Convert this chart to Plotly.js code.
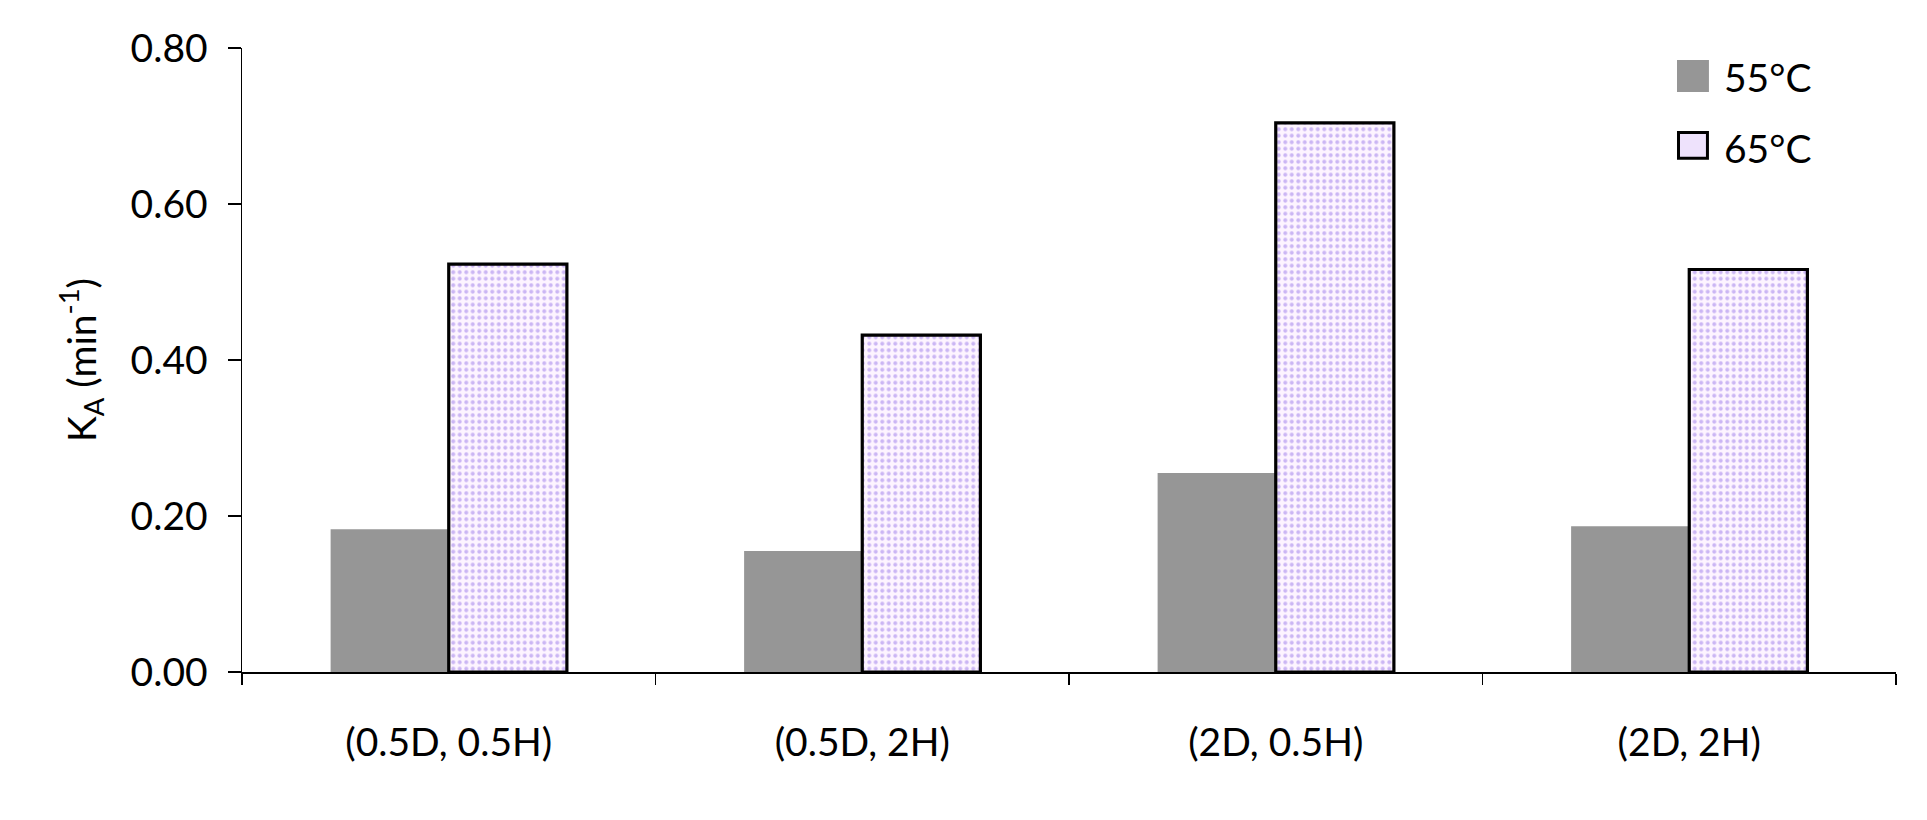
<!DOCTYPE html>
<html>
<head>
<meta charset="utf-8">
<script src="https://cdn.plot.ly/plotly-3.0.1.min.js"></script>
<style>html,body{margin:0;padding:0;background:#fff;}#chart{width:1927px;height:820px;}</style>
</head>
<body>
<div id="chart"></div>
<script>
const categories = ["(0.5D, 0.5H)", "(0.5D, 2H)", "(2D, 0.5H)", "(2D, 2H)"];
const seriesNames = ["55°C", "65°C"];
const values55 = [0.183, 0.155, 0.255, 0.187];
const values65 = [0.523, 0.432, 0.704, 0.516];
const yTickVals = [0, 0.2, 0.4, 0.6, 0.8];
const yTickText = ["0.00", "0.20", "0.40", "0.60", "0.80"];

const FONT = "Lato, 'Open Sans', sans-serif";

const traces = [
  {
    type: "bar", name: seriesNames[0], x: categories, y: values55,
    marker: {color: "#969696", line: {width: 0}},
    showlegend: false, hoverinfo: "x+y+name"
  },
  {
    type: "bar", name: seriesNames[1], x: categories, y: values65,
    marker: {
      color: "#fdf4ff",
      line: {color: "#000000", width: 3.2},
      pattern: {shape: ".", fgcolor: "#cbb6f4", bgcolor: "#fdf4ff", size: 6.5, solidity: 0.3, fillmode: "replace"}
    },
    showlegend: false, hoverinfo: "x+y+name"
  }
];

const layout = {
  width: 1927, height: 820,
  paper_bgcolor: "#ffffff", plot_bgcolor: "#ffffff",
  margin: {l: 242, r: 31, t: 48, b: 148},
  font: {family: FONT, size: 39, color: "#000"},
  barmode: "group", bargap: 0.4286, bargroupgap: 0,
  showlegend: false,
  xaxis: {
    type: "category",
    showline: true, linecolor: "#000", linewidth: 1.5,
    ticks: "outside", tickson: "boundaries", ticklen: 11, tickwidth: 1.5, tickcolor: "#000",
    ticklabelstandoff: 36,
    showgrid: false, zeroline: false,
    tickfont: {family: FONT, size: 39, color: "#000"}
  },
  yaxis: {
    range: [0, 0.8],
    tickvals: yTickVals, ticktext: yTickText,
    showline: true, linecolor: "#000", linewidth: 1.5,
    ticks: "outside", ticklen: 13, tickwidth: 1.5, tickcolor: "#000",
    ticklabelstandoff: 12,
    showgrid: false, zeroline: false,
    tickfont: {family: FONT, size: 39, color: "#000"},
    title: {text: "K<sub>A</sub> (min<sup>-1</sup>)", font: {family: FONT, size: 39, color: "#000"}, standoff: 22}
  },
  shapes: [
    {type: "rect", xref: "paper", yref: "paper", x0: 0.8676, x1: 0.8869, y0: 0.9295, y1: 0.9808,
     fillcolor: "#969696", line: {width: 0}},
    {type: "rect", xref: "paper", yref: "paper", x0: 0.8685, x1: 0.8860, y0: 0.8235, y1: 0.8645,
     fillcolor: "#eee2fc", line: {color: "#000", width: 3}}
  ],
  annotations: [
    {xref: "paper", yref: "paper", x: 0.8948, y: 0.954, xanchor: "left", yanchor: "middle",
     text: seriesNames[0], showarrow: false, font: {family: FONT, size: 39, color: "#000"}},
    {xref: "paper", yref: "paper", x: 0.8948, y: 0.8397, xanchor: "left", yanchor: "middle",
     text: seriesNames[1], showarrow: false, font: {family: FONT, size: 39, color: "#000"}}
  ]
};

Plotly.newPlot("chart", traces, layout, {displayModeBar: false, staticPlot: true});
</script>
</body>
</html>
